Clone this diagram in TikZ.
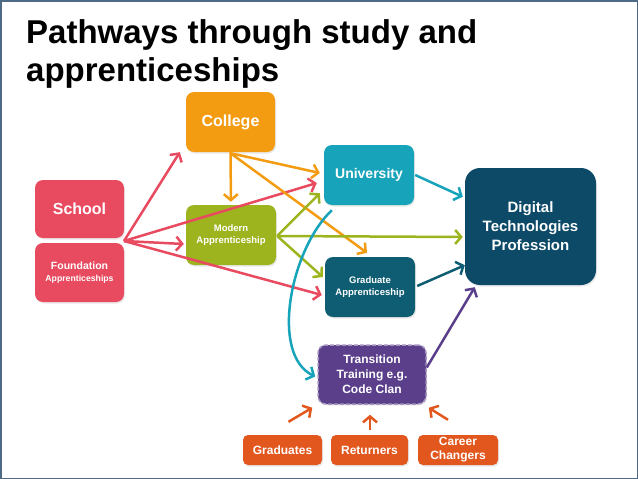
\documentclass[tikz,border=0pt]{standalone}
\usepackage{fontspec}
\setmainfont{Liberation Sans}
\usetikzlibrary{arrows.meta,shapes,shadows}
\definecolor{schoolred}{HTML}{E84A5F}
\definecolor{collegeorange}{HTML}{F39C12}
\definecolor{moderngreen}{HTML}{9DB41F}
\definecolor{uniteal}{HTML}{17A3B9}
\definecolor{gradteal}{HTML}{0F5D72}
\definecolor{profblue}{HTML}{0C4A67}
\definecolor{trainpurple}{HTML}{5B3F8B}
\definecolor{sourceorange}{HTML}{E2571E}
\definecolor{framegray}{HTML}{4E6B85}
\newcommand{\setsize}[2]{\fontsize{#1}{#2}\selectfont}
\tikzstyle{box}=[rectangle,rounded corners=8pt,text=white,align=center,inner sep=2pt,drop shadow={opacity=0.18,shadow xshift=1pt,shadow yshift=-1.5pt}]
\tikzstyle{flow}=[line width=2.5pt,-{Straight Barb[length=6pt,width=14pt]}]

\begin{document}
\begin{tikzpicture}[x=1pt,y=-1pt]
    \useasboundingbox (0,0) rectangle (638,479);
    % Slide frame and title
    \draw[framegray,line width=1.5pt] (0.75,0.75) rectangle (637.25,478.25);
    \node[anchor=base west,align=left,inner sep=0pt,font=\bfseries\setsize{33}{38}] (title) at (26,81) {Pathways through study and\\apprenticeships};
    % Study and apprenticeship boxes
    \node[box,fill=schoolred,minimum width=89pt,minimum height=58pt,font=\bfseries\setsize{16}{19}] (school) at (79.5,209) {School};
    \node[box,fill=schoolred,minimum width=89pt,minimum height=59pt,font=\bfseries] (found) at (79.5,272.5) {\setsize{10.5}{11}Foundation\\\setsize{8.7}{11}Apprenticeships};
    \node[box,fill=collegeorange,minimum width=89pt,minimum height=60pt,font=\bfseries\setsize{16}{19}] (college) at (230.5,122) {College};
    \node[box,fill=moderngreen,minimum width=90pt,minimum height=60pt,font=\bfseries\setsize{9.5}{12.3}] (modern) at (231,235) {Modern\\Apprenticeship};
    \node[box,fill=uniteal,minimum width=90pt,minimum height=60pt,font=\bfseries\setsize{14}{17}] (university) at (369,175) {University};
    \node[box,fill=gradteal,minimum width=90pt,minimum height=60pt,font=\bfseries\setsize{9.5}{12}] (graduate) at (370,287) {Graduate\\Apprenticeship};
    \node[box,fill=profblue,rounded corners=15pt,minimum width=131pt,minimum height=117pt,font=\bfseries\setsize{15}{19}] (digital) at (530.5,226.5) {Digital\\Technologies\\Profession};
    \node[box,fill=trainpurple,draw=trainpurple!55!white,dash pattern=on 4pt off 2pt,line width=1.5pt,minimum width=108pt,minimum height=59pt,font=\bfseries\setsize{12}{15}] (train) at (372,374.5) {Transition\\Training e.g.\\Code Clan};
    % Routes into transition training
    \foreach \pos/\name/\boxw/\txt in {(282.5,450)/grads/79/Graduates, (369.5,450)/returners/77/Returners, (458,450)/career/80/{Career\\Changers}}
        \node[box,fill=sourceorange,rounded corners=5pt,minimum width=\boxw pt,minimum height=30pt,font=\bfseries\setsize{12}{14}] (\name) at \pos {\txt};
    \coordinate (fork) at (124,241);
    % Connect boxes with arrows
    \foreach \dest/\dx/\dy in {college.south west/-6/0, modern.west/-2/9, university.west/-7/8, graduate.west/-3/8}
        \draw[flow,schoolred] (fork) -- ([shift={(\dx,\dy)}]\dest);
    \draw[flow,collegeorange,shorten >=3pt] (college) -- (modern);
    \foreach \dest/\dx/\dy in {university.west/-4/-2, graduate.north/-3/-4}
        \draw[flow,collegeorange] ([shift={(0,1)}]college.south) -- ([shift={(\dx,\dy)}]\dest);
    \foreach \dest/\dx/\dy in {university.south west/-4/-12, digital.west/-2/10.5, graduate.west/-2/-10}
        \draw[flow,moderngreen] ([shift={(1,1)}]modern.east) -- ([shift={(\dx,\dy)}]\dest);
    \draw[flow,uniteal] ([shift={(1,0)}]university.east) -- ([shift={(-2,29)}]digital.north west);
    \draw[flow,gradteal] ([shift={(2,-1)}]graduate.east) -- ([shift={(0,-20)}]digital.south west);
    \draw[flow,trainpurple] ([shift={(0,-7)}]train.east) -- ([shift={(10,2)}]digital.south west);
    \draw[flow,uniteal] ([shift={(8,5)}]university.south west) .. controls (290,250) and (270,355) .. ([shift={(-2,2)}]train.west);
    \draw[flow,sourceorange] ([shift={(6,-13)}]grads.north) -- ([shift={(-5,3)}]train.south west);
    \draw[flow,sourceorange] ([shift={(0.5,-5)}]returners.north) -- ([shift={(-2,10)}]train.south);
    \draw[flow,sourceorange] ([shift={(-10,-15)}]career.north) -- ([shift={(2,3)}]train.south east);
\end{tikzpicture}
\end{document}
